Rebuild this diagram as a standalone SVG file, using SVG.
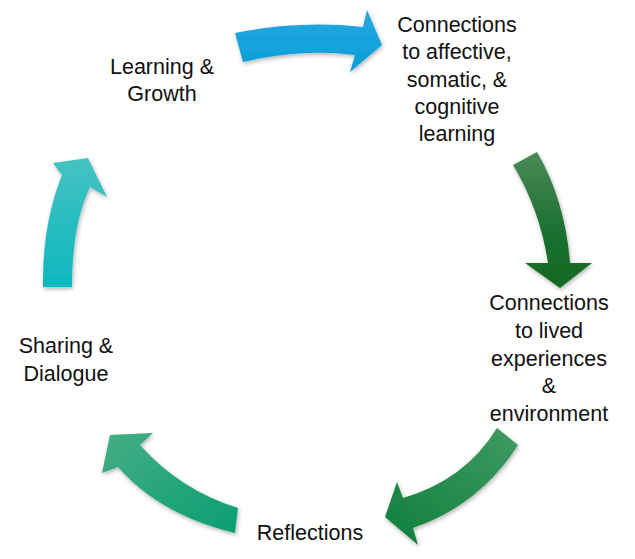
<svg xmlns="http://www.w3.org/2000/svg" width="635" height="559" viewBox="0 0 635 559">
<defs>
<linearGradient id="gBlue" x1="0" y1="0" x2="0" y2="1"><stop offset="0" stop-color="#2aa6e0"/><stop offset="1" stop-color="#05a0d8"/></linearGradient>
<linearGradient id="gDark" x1="0" y1="0" x2="0" y2="1"><stop offset="0" stop-color="#4a8a58"/><stop offset="0.6" stop-color="#1a7030"/><stop offset="1" stop-color="#136a22"/></linearGradient>
<linearGradient id="gGreen" x1="1" y1="0" x2="0" y2="1"><stop offset="0" stop-color="#3f9a62"/><stop offset="1" stop-color="#0f7f3c"/></linearGradient>
<linearGradient id="gSea" x1="0" y1="0" x2="1" y2="1"><stop offset="0" stop-color="#45ad85"/><stop offset="1" stop-color="#0a9e72"/></linearGradient>
<linearGradient id="gTeal" x1="0" y1="0" x2="0" y2="1"><stop offset="0" stop-color="#45c2c2"/><stop offset="1" stop-color="#0db8bf"/></linearGradient>
<filter id="sh" x="-20%" y="-20%" width="140%" height="140%"><feDropShadow dx="1" dy="2" stdDeviation="2" flood-color="#000" flood-opacity="0.3"/></filter>
</defs>
<style>
text{font-family:"Liberation Sans",Arial,sans-serif;font-size:21.5px;fill:#111;text-anchor:middle}
.a{filter:url(#sh)}
</style>
<rect width="635" height="559" fill="#fff"/>
<g id="connectors">
<path class="a" fill="url(#gBlue)" d="M235,33 Q300,20 363,27 L367,10 L382,45 L350,72 L355,55 Q300,48 243,62 Z"/>
<path class="a" fill="url(#gDark)" d="M513,165 L537,152 Q565,200 570,263 L592,263 L560,288 L525,263 L548,263 Q540,210 513,165 Z"/>
<path class="a" fill="url(#gGreen)" d="M497,428 L518,445 Q480,505 413,528 L418,545 L385,517 L397,482 L403,498 Q465,480 497,428 Z"/>
<path class="a" fill="url(#gSea)" d="M238,508 L235,533 Q160,515 118,467 L102,473 L110,435 L153,433 L140,445 Q180,490 238,508 Z"/>
<path class="a" fill="url(#gTeal)" d="M43,287 L72,287 Q72,225 90,187 L107,197 L88,158 L53,163 L62,175 Q42,225 43,287 Z"/>
</g>
<g id="node-learning"><text x="162" y="74">Learning &amp;</text><text x="162" y="101">Growth</text></g>
<g id="node-affective"><text x="457" y="32">Connections</text><text x="457" y="59">to affective,</text><text x="457" y="87">somatic, &amp;</text><text x="457" y="114">cognitive</text><text x="457" y="141">learning</text></g>
<g id="node-lived"><text x="549" y="310">Connections</text><text x="549" y="338">to lived</text><text x="549" y="366">experiences</text><text x="549" y="393">&amp;</text><text x="549" y="421">environment</text></g>
<g id="node-reflections"><text x="310" y="540">Reflections</text></g>
<g id="node-sharing"><text x="66" y="353">Sharing &amp;</text><text x="66" y="381">Dialogue</text></g>
</svg>
